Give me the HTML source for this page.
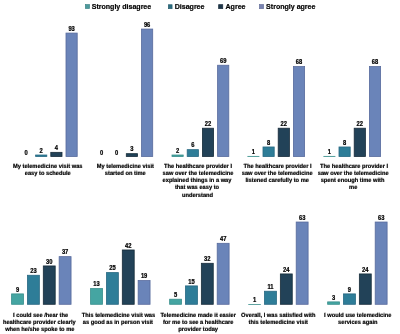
<!DOCTYPE html>
<html><head><meta charset="utf-8"><style>
html,body{margin:0;padding:0;background:#fff;width:400px;height:334px;overflow:hidden}
svg{display:block}
text{font-family:"Liberation Sans",sans-serif;font-weight:bold;fill:#000;stroke:#000;stroke-width:0.1px}
.v{font-size:5.8px;text-anchor:middle;stroke-width:0.22px}
.c{font-size:5.72px;text-anchor:middle;letter-spacing:0px}
.l{font-size:7.05px;stroke-width:0.2px}
</style></head><body>
<svg width="400" height="334" viewBox="0 0 400 334">
<defs><filter id="b" x="0" y="0" width="400" height="334" filterUnits="userSpaceOnUse"><feConvolveMatrix order="3" kernelMatrix="0.0000 0.0038 0.0000 0.0038 0.9847 0.0038 0.0000 0.0038 0.0000" edgeMode="duplicate" preserveAlpha="true"/></filter>
<filter id="t" x="0" y="0" width="400" height="334" filterUnits="userSpaceOnUse"><feConvolveMatrix order="3" kernelMatrix="0.0000 0.0038 0.0000 0.0038 0.9847 0.0038 0.0000 0.0038 0.0000" edgeMode="duplicate" preserveAlpha="false"/></filter></defs>
<g filter="url(#b)">
<rect x="0" y="0" width="400" height="334" fill="#fff"/>
<rect x="35.60" y="155.02" width="11.20" height="1.48" fill="#2f7d98" stroke="#246680" stroke-width="0.8"/>
<rect x="50.80" y="152.34" width="11.20" height="4.16" fill="#214358" stroke="#142938" stroke-width="0.8"/>
<rect x="66.00" y="33.08" width="11.20" height="123.42" fill="#6b84b9" stroke="#56699c" stroke-width="0.8"/>
<rect x="126.30" y="153.68" width="11.20" height="2.82" fill="#214358" stroke="#142938" stroke-width="0.8"/>
<rect x="141.50" y="29.06" width="11.20" height="127.44" fill="#6b84b9" stroke="#56699c" stroke-width="0.8"/>
<rect x="172.00" y="155.02" width="11.20" height="1.48" fill="#45a5a2" stroke="#358d8a" stroke-width="0.8"/>
<rect x="187.20" y="149.66" width="11.20" height="6.84" fill="#2f7d98" stroke="#246680" stroke-width="0.8"/>
<rect x="202.40" y="128.22" width="11.20" height="28.28" fill="#214358" stroke="#142938" stroke-width="0.8"/>
<rect x="217.60" y="65.24" width="11.20" height="91.26" fill="#6b84b9" stroke="#56699c" stroke-width="0.8"/>
<rect x="247.80" y="156.36" width="11.20" height="0.14" fill="#45a5a2" stroke="#358d8a" stroke-width="0.8"/>
<rect x="263.00" y="146.98" width="11.20" height="9.52" fill="#2f7d98" stroke="#246680" stroke-width="0.8"/>
<rect x="278.20" y="128.22" width="11.20" height="28.28" fill="#214358" stroke="#142938" stroke-width="0.8"/>
<rect x="293.40" y="66.58" width="11.20" height="89.92" fill="#6b84b9" stroke="#56699c" stroke-width="0.8"/>
<rect x="323.80" y="156.36" width="11.20" height="0.14" fill="#45a5a2" stroke="#358d8a" stroke-width="0.8"/>
<rect x="339.00" y="146.98" width="11.20" height="9.52" fill="#2f7d98" stroke="#246680" stroke-width="0.8"/>
<rect x="354.20" y="128.22" width="11.20" height="28.28" fill="#214358" stroke="#142938" stroke-width="0.8"/>
<rect x="369.40" y="66.58" width="11.20" height="89.92" fill="#6b84b9" stroke="#56699c" stroke-width="0.8"/>
<rect x="11.60" y="293.90" width="11.90" height="10.40" fill="#45a5a2" stroke="#358d8a" stroke-width="0.8"/>
<rect x="27.45" y="275.27" width="11.90" height="29.03" fill="#2f7d98" stroke="#246680" stroke-width="0.8"/>
<rect x="43.30" y="265.95" width="11.90" height="38.35" fill="#214358" stroke="#142938" stroke-width="0.8"/>
<rect x="59.15" y="256.63" width="11.90" height="47.67" fill="#6b84b9" stroke="#56699c" stroke-width="0.8"/>
<rect x="90.60" y="288.58" width="11.90" height="15.72" fill="#45a5a2" stroke="#358d8a" stroke-width="0.8"/>
<rect x="106.45" y="272.60" width="11.90" height="31.69" fill="#2f7d98" stroke="#246680" stroke-width="0.8"/>
<rect x="122.30" y="249.98" width="11.90" height="54.32" fill="#214358" stroke="#142938" stroke-width="0.8"/>
<rect x="138.15" y="280.59" width="11.90" height="23.71" fill="#6b84b9" stroke="#56699c" stroke-width="0.8"/>
<rect x="169.65" y="299.22" width="11.90" height="5.07" fill="#45a5a2" stroke="#358d8a" stroke-width="0.8"/>
<rect x="185.50" y="285.91" width="11.90" height="18.38" fill="#2f7d98" stroke="#246680" stroke-width="0.8"/>
<rect x="201.35" y="263.29" width="11.90" height="41.01" fill="#214358" stroke="#142938" stroke-width="0.8"/>
<rect x="217.20" y="243.32" width="11.90" height="60.98" fill="#6b84b9" stroke="#56699c" stroke-width="0.8"/>
<rect x="248.65" y="304.55" width="11.90" height="0.05" fill="#45a5a2" stroke="#358d8a" stroke-width="0.8"/>
<rect x="264.50" y="291.24" width="11.90" height="13.06" fill="#2f7d98" stroke="#246680" stroke-width="0.8"/>
<rect x="280.35" y="273.94" width="11.90" height="30.36" fill="#214358" stroke="#142938" stroke-width="0.8"/>
<rect x="296.20" y="222.03" width="11.90" height="82.27" fill="#6b84b9" stroke="#56699c" stroke-width="0.8"/>
<rect x="327.65" y="301.89" width="11.90" height="2.41" fill="#45a5a2" stroke="#358d8a" stroke-width="0.8"/>
<rect x="343.50" y="293.90" width="11.90" height="10.40" fill="#2f7d98" stroke="#246680" stroke-width="0.8"/>
<rect x="359.35" y="273.94" width="11.90" height="30.36" fill="#214358" stroke="#142938" stroke-width="0.8"/>
<rect x="375.20" y="222.03" width="11.90" height="82.27" fill="#6b84b9" stroke="#56699c" stroke-width="0.8"/>
<rect x="85.35" y="4.55" width="4.20" height="4.00" fill="#4e9a9c" stroke="#3f8688" stroke-width="0.7"/>
<rect x="168.35" y="4.75" width="3.70" height="3.90" fill="#2e6e82" stroke="#255c6c" stroke-width="0.7"/>
<rect x="218.65" y="4.65" width="4.10" height="4.00" fill="#1f3648" stroke="#15283a" stroke-width="0.7"/>
<rect x="259.45" y="4.55" width="4.10" height="4.10" fill="#7a84b2" stroke="#666f9a" stroke-width="0.7"/>
</g>
<g filter="url(#t)">
<text class="v" transform="translate(26.00,155.00) scale(1,1.1)">0</text>
<text class="v" transform="translate(41.20,152.72) scale(1,1.1)">2</text>
<text class="v" transform="translate(56.40,150.04) scale(1,1.1)">4</text>
<text class="v" transform="translate(71.60,30.78) scale(1,1.1)">93</text>
<text class="v" transform="translate(101.50,155.00) scale(1,1.1)">0</text>
<text class="v" transform="translate(116.70,155.00) scale(1,1.1)">0</text>
<text class="v" transform="translate(131.90,151.38) scale(1,1.1)">3</text>
<text class="v" transform="translate(147.10,26.76) scale(1,1.1)">96</text>
<text class="v" transform="translate(177.60,152.72) scale(1,1.1)">2</text>
<text class="v" transform="translate(192.80,147.36) scale(1,1.1)">6</text>
<text class="v" transform="translate(208.00,125.92) scale(1,1.1)">22</text>
<text class="v" transform="translate(223.20,62.94) scale(1,1.1)">69</text>
<text class="v" transform="translate(253.40,154.06) scale(1,1.1)">1</text>
<text class="v" transform="translate(268.60,144.68) scale(1,1.1)">8</text>
<text class="v" transform="translate(283.80,125.92) scale(1,1.1)">22</text>
<text class="v" transform="translate(299.00,64.28) scale(1,1.1)">68</text>
<text class="v" transform="translate(329.40,154.06) scale(1,1.1)">1</text>
<text class="v" transform="translate(344.60,144.68) scale(1,1.1)">8</text>
<text class="v" transform="translate(359.80,125.92) scale(1,1.1)">22</text>
<text class="v" transform="translate(375.00,64.28) scale(1,1.1)">68</text>
<text class="v" transform="translate(17.55,291.60) scale(1,1.1)">9</text>
<text class="v" transform="translate(33.40,272.97) scale(1,1.1)">23</text>
<text class="v" transform="translate(49.25,263.65) scale(1,1.1)">30</text>
<text class="v" transform="translate(65.10,254.33) scale(1,1.1)">37</text>
<text class="v" transform="translate(96.55,286.28) scale(1,1.1)">13</text>
<text class="v" transform="translate(112.40,270.31) scale(1,1.1)">25</text>
<text class="v" transform="translate(128.25,247.68) scale(1,1.1)">42</text>
<text class="v" transform="translate(144.10,278.29) scale(1,1.1)">19</text>
<text class="v" transform="translate(175.60,296.93) scale(1,1.1)">5</text>
<text class="v" transform="translate(191.45,283.62) scale(1,1.1)">15</text>
<text class="v" transform="translate(207.30,260.99) scale(1,1.1)">32</text>
<text class="v" transform="translate(223.15,241.02) scale(1,1.1)">47</text>
<text class="v" transform="translate(254.60,302.25) scale(1,1.1)">1</text>
<text class="v" transform="translate(270.45,288.94) scale(1,1.1)">11</text>
<text class="v" transform="translate(286.30,271.64) scale(1,1.1)">24</text>
<text class="v" transform="translate(302.15,219.73) scale(1,1.1)">63</text>
<text class="v" transform="translate(333.60,299.59) scale(1,1.1)">3</text>
<text class="v" transform="translate(349.45,291.60) scale(1,1.1)">9</text>
<text class="v" transform="translate(365.30,271.64) scale(1,1.1)">24</text>
<text class="v" transform="translate(381.15,219.73) scale(1,1.1)">63</text>
<text class="l" x="91.70" y="9.30">Strongly disagree</text>
<text class="l" x="174.70" y="9.30">Disagree</text>
<text class="l" x="225.50" y="9.30">Agree</text>
<text class="l" x="266.10" y="9.30">Strongly agree</text>
<g opacity="1">
<text class="c" x="47.75" y="168.30">My telemedicine visit was</text>
<text class="c" x="47.75" y="175.35">easy to schedule</text>
<text class="c" x="125.30" y="168.30">My telemedicine visit</text>
<text class="c" x="125.30" y="175.35">started on time</text>
<text class="c" x="198.00" y="168.30">The healthcare provider I</text>
<text class="c" x="198.00" y="175.35">saw over the telemedicine</text>
<text class="c" x="197.00" y="182.40">explained things in a way</text>
<text class="c" x="197.00" y="189.45">that was easy to</text>
<text class="c" x="197.50" y="196.50">understand</text>
<text class="c" x="277.60" y="168.30">The healthcare provider I</text>
<text class="c" x="277.20" y="175.35">saw over the telemedicine</text>
<text class="c" x="277.20" y="182.40">listened carefully to me</text>
<text class="c" x="354.10" y="168.30">The healthcare provider I</text>
<text class="c" x="353.20" y="175.35">saw over the telemedicine</text>
<text class="c" x="352.60" y="182.40">spent enough time with</text>
<text class="c" x="353.20" y="189.45">me</text>
<text class="c" x="40.60" y="317.00">I could see /hear the</text>
<text class="c" x="39.30" y="324.05">healthcare provider clearly</text>
<text class="c" x="39.80" y="331.10">when he/she spoke to me</text>
<text class="c" x="118.50" y="317.00">This telemedicine visit was</text>
<text class="c" x="117.90" y="324.05">as good as in person visit</text>
<text class="c" x="198.20" y="317.00">Telemedicine made it easier</text>
<text class="c" x="198.20" y="324.05">for me to see a healthcare</text>
<text class="c" x="198.20" y="331.10">provider today</text>
<text class="c" x="278.30" y="317.00">Overall, I was satisfied with</text>
<text class="c" x="278.30" y="324.05">this telemedicine visit</text>
<text class="c" x="357.80" y="317.00">I would use telemedicine</text>
<text class="c" x="357.80" y="324.05">services again</text>
</g>
<g opacity="0.35">
<text class="c" transform="translate(47.75,168.30) scale(1,1.12)">My telemedicine visit was</text>
<text class="c" transform="translate(47.75,175.35) scale(1,1.12)">easy to schedule</text>
<text class="c" transform="translate(125.30,168.30) scale(1,1.12)">My telemedicine visit</text>
<text class="c" transform="translate(125.30,175.35) scale(1,1.12)">started on time</text>
<text class="c" transform="translate(198.00,168.30) scale(1,1.12)">The healthcare provider I</text>
<text class="c" transform="translate(198.00,175.35) scale(1,1.12)">saw over the telemedicine</text>
<text class="c" transform="translate(197.00,182.40) scale(1,1.12)">explained things in a way</text>
<text class="c" transform="translate(197.00,189.45) scale(1,1.12)">that was easy to</text>
<text class="c" transform="translate(197.50,196.50) scale(1,1.12)">understand</text>
<text class="c" transform="translate(277.60,168.30) scale(1,1.12)">The healthcare provider I</text>
<text class="c" transform="translate(277.20,175.35) scale(1,1.12)">saw over the telemedicine</text>
<text class="c" transform="translate(277.20,182.40) scale(1,1.12)">listened carefully to me</text>
<text class="c" transform="translate(354.10,168.30) scale(1,1.12)">The healthcare provider I</text>
<text class="c" transform="translate(353.20,175.35) scale(1,1.12)">saw over the telemedicine</text>
<text class="c" transform="translate(352.60,182.40) scale(1,1.12)">spent enough time with</text>
<text class="c" transform="translate(353.20,189.45) scale(1,1.12)">me</text>
<text class="c" transform="translate(40.60,317.00) scale(1,1.12)">I could see /hear the</text>
<text class="c" transform="translate(39.30,324.05) scale(1,1.12)">healthcare provider clearly</text>
<text class="c" transform="translate(39.80,331.10) scale(1,1.12)">when he/she spoke to me</text>
<text class="c" transform="translate(118.50,317.00) scale(1,1.12)">This telemedicine visit was</text>
<text class="c" transform="translate(117.90,324.05) scale(1,1.12)">as good as in person visit</text>
<text class="c" transform="translate(198.20,317.00) scale(1,1.12)">Telemedicine made it easier</text>
<text class="c" transform="translate(198.20,324.05) scale(1,1.12)">for me to see a healthcare</text>
<text class="c" transform="translate(198.20,331.10) scale(1,1.12)">provider today</text>
<text class="c" transform="translate(278.30,317.00) scale(1,1.12)">Overall, I was satisfied with</text>
<text class="c" transform="translate(278.30,324.05) scale(1,1.12)">this telemedicine visit</text>
<text class="c" transform="translate(357.80,317.00) scale(1,1.12)">I would use telemedicine</text>
<text class="c" transform="translate(357.80,324.05) scale(1,1.12)">services again</text>
</g>
</g>
</svg>
</body></html>
